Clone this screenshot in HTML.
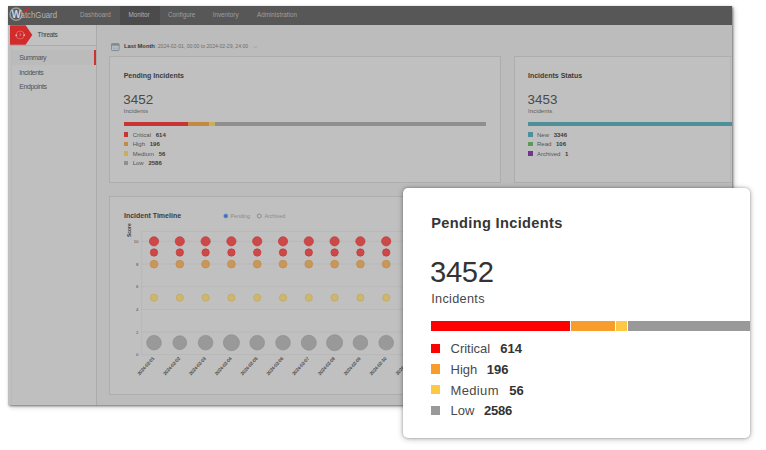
<!DOCTYPE html>
<html><head><meta charset="utf-8">
<style>
*{margin:0;padding:0;box-sizing:border-box}
html,body{width:766px;height:450px;overflow:hidden;background:#fff;font-family:"Liberation Sans",sans-serif}
.a{position:absolute;white-space:nowrap}
#win{position:absolute;left:8px;top:6px;width:724px;height:399px;background:#bcbcbc;box-shadow:1px 1px 2px rgba(0,0,0,.45),2px 2px 5px rgba(0,0,0,.22);overflow:hidden}
#nav{position:absolute;left:0;top:0;width:100%;height:19px;background:#575757}
.ni{position:absolute;top:0;height:19px;line-height:18px;font-size:6.3px;color:#9e9e9e}
#side{position:absolute;left:0;top:19px;width:88.5px;height:380px;background:#bfbfbf;border-right:1px solid #ababab}
.card{position:absolute;background:#c0c0c0;border:1px solid #adadad}
.t7{font-size:7px;font-weight:bold;color:#3c3c3c}
.big{font-size:13.4px;color:#4a4a4a}
.sm{font-size:6.1px;color:#626262}
.lg{font-size:6px;color:#555}
.lg b{color:#3a3a3a;margin-left:3px}
.sq{position:absolute;width:4.2px;height:4.2px}
#ov{position:absolute;left:402.5px;top:188px;width:347px;height:250px;background:#fff;border-radius:5px;box-shadow:0 0 3px rgba(0,0,0,.3),0 1px 6px rgba(0,0,0,.25);overflow:hidden}
.ol{position:absolute;white-space:nowrap;line-height:0;font-size:13px;color:#4a4a4a}
.ol b{color:#333}
</style></head><body>
<div id="win">
  <div id="nav">
    <svg class="a" style="left:0;top:0" width="60" height="19" viewBox="0 0 60 19">
      <circle cx="8.1" cy="8.1" r="6.1" fill="none" stroke="#9a9a9a" stroke-width="1.5"/>
      <text x="8.3" y="11.9" font-size="10.8" font-family="Liberation Sans" font-weight="bold" fill="#d4d4d4" text-anchor="middle" textLength="9.4" lengthAdjust="spacingAndGlyphs">W</text>
      <path d="M15 5.4 Q18.2 1.8 22.2 1.4 Q20.6 4.8 16.8 6.6Z" fill="#cc2a2a"/>
      <text x="12.6" y="11.9" font-size="9" font-family="Liberation Sans" fill="#b4b4b4" textLength="36.4" lengthAdjust="spacingAndGlyphs">atchGuard</text>
    </svg>
    <div class="ni" style="left:72px">Dashboard</div>
    <div class="ni" style="left:112px;width:40px;background:#4b4b4b;color:#b2b2b2;padding-left:8.5px">Monitor</div>
    <div class="ni" style="left:160px">Configure</div>
    <div class="ni" style="left:204.7px">Inventory</div>
    <div class="ni" style="left:249px">Administration</div>
  </div>
  <div id="side">
    <div class="a" style="left:2px;top:0;width:86px;height:21px;background:#c1c1c1;border-bottom:1px solid #acacac"></div>
    <svg class="a" style="left:2px;top:0" width="24" height="20" viewBox="0 0 24 20">
      <path d="M0 0.2H15.6L22.3 10L15.6 19.8H0Z" fill="#d12b2b"/>
      <circle cx="10.2" cy="10" r="4" fill="none" stroke="#e08a8a" stroke-width="0.6"/>
      <path d="M6.2 9.6L5.6 10.8L6.8 10.8Z M14.2 9.2L13.6 10.4L14.8 10.4Z" fill="#f2caca" stroke="#f2caca" stroke-width="0.6"/>
      <path d="M10.2 8.4v2.6" stroke="#e49a9a" stroke-width="0.8"/>
    </svg>
    <div class="a" style="left:29.6px;top:10.2px;line-height:0;font-size:6.5px;letter-spacing:-0.3px;color:#3e3e3e">Threats</div>
    <div class="a" style="left:3.2px;top:20.5px;width:1px;height:360px;background:#b9b9b9"></div>
    <div class="a" style="left:4.2px;top:25px;width:83.8px;height:14.5px;background:#bbbbbb"></div>
    <div class="a" style="left:86px;top:25px;width:2px;height:14.5px;background:#cf3030"></div>
    <div class="a" style="left:11.2px;top:33.4px;line-height:0;font-size:7px;letter-spacing:-0.42px;color:#525252">Summary</div>
    <div class="a" style="left:11.2px;top:47.8px;line-height:0;font-size:7px;letter-spacing:-0.42px;color:#525252">Incidents</div>
    <div class="a" style="left:11.2px;top:62.2px;line-height:0;font-size:7px;letter-spacing:-0.42px;color:#525252">Endpoints</div>
  </div>
  <!-- main -->
  <svg class="a" style="left:103px;top:36.8px" width="9" height="9" viewBox="0 0 9 9">
    <rect x="0.45" y="0.45" width="7.7" height="7.1" rx="0.9" fill="none" stroke="#708090" stroke-width="0.8"/>
    <path d="M0.5 1.9H8.1" stroke="#708090" stroke-width="1.4"/>
    <path d="M2.2 4.6h1.6v1.6h-1.6zM4.8 4.6h1.6v1.6h-1.6z" fill="#9aa6b0"/>
  </svg>
  <div class="a" style="left:116px;top:40.4px;line-height:0;font-size:5.8px;color:#3a3a3a"><b>Last Month</b><span style="font-size:5.1px;color:#6e6e6e">: 2024-02-01, 00:00 to 2024-02-29, 24:00</span></div>
  <svg class="a" style="left:244.5px;top:38.5px" width="5" height="4" viewBox="0 0 5 4"><path d="M0.5 1L2.5 3L4.5 1" fill="none" stroke="#8a9aaa" stroke-width="0.6"/></svg>

  <div class="card" style="left:101px;top:50px;width:391.5px;height:126.5px"></div>
  <div class="a t7" style="left:115.7px;top:70px;line-height:0">Pending Incidents</div>
  <div class="a big" style="left:115.3px;top:93.5px;line-height:0">3452</div>
  <div class="a sm" style="left:115.7px;top:105.3px;line-height:0">Incidents</div>
  <div class="a" style="left:115.7px;top:115.9px;width:64.3px;height:4px;background:#c83434"></div>
  <div class="a" style="left:180px;top:115.9px;width:21px;height:4px;background:#c48a44"></div>
  <div class="a" style="left:201px;top:115.9px;width:5.6px;height:4px;background:#cbae58"></div>
  <div class="a" style="left:206.6px;top:115.9px;width:271.4px;height:4px;background:#8f8f8f"></div>
  <div class="sq" style="left:116px;top:126.4px;background:#c83434"></div>
  <div class="sq" style="left:116px;top:135.7px;background:#c48a44"></div>
  <div class="sq" style="left:116px;top:145.4px;background:#cbae58"></div>
  <div class="sq" style="left:116px;top:155px;background:#8f8f8f"></div>
  <div class="a lg" style="left:124.7px;top:128.7px;line-height:0">Critical <b>614</b></div>
  <div class="a lg" style="left:124.7px;top:138px;line-height:0">High <b>196</b></div>
  <div class="a lg" style="left:124.7px;top:147.7px;line-height:0">Medium <b>56</b></div>
  <div class="a lg" style="left:124.7px;top:157.3px;line-height:0">Low <b>2586</b></div>

  <div class="card" style="left:506px;top:50px;width:230px;height:126.5px"></div>
  <div class="a" style="left:721.5px;top:50px;width:1px;height:126.5px;background:#b6b6b6"></div>
  <div class="a t7" style="left:520px;top:70px;line-height:0">Incidents Status</div>
  <div class="a big" style="left:519.6px;top:93.5px;line-height:0">3453</div>
  <div class="a sm" style="left:520px;top:105.3px;line-height:0">Incidents</div>
  <div class="a" style="left:520px;top:115.9px;width:210px;height:4px;background:#4e8f98"></div>
  <div class="sq" style="left:520.4px;top:126.4px;background:#4e8f98"></div>
  <div class="sq" style="left:520.4px;top:135.7px;background:#5a9a5a"></div>
  <div class="sq" style="left:520.4px;top:145.4px;background:#6a3a8a"></div>
  <div class="a lg" style="left:529px;top:128.7px;line-height:0">New <b>3346</b></div>
  <div class="a lg" style="left:529px;top:138px;line-height:0">Read <b>106</b></div>
  <div class="a lg" style="left:529px;top:147.7px;line-height:0">Archived <b>1</b></div>

  <div class="card" style="left:101px;top:190px;width:620px;height:199px"></div>
  <div class="a t7" style="left:116px;top:209.8px;line-height:0">Incident Timeline</div>
  <svg class="a" style="left:214px;top:206.8px" width="80" height="6" viewBox="0 0 80 6">
    <circle cx="3.8" cy="3" r="2.1" fill="#3d6fc4" stroke="#6f8fc8" stroke-width="0.5"/>
    <text x="8.5" y="4.8" font-size="5.3" fill="#8a8a8a" font-family="Liberation Sans">Pending</text>
    <circle cx="37.3" cy="3" r="2" fill="none" stroke="#7e7e7e" stroke-width="0.75"/>
    <text x="42.5" y="4.8" font-size="5.3" fill="#8a8a8a" font-family="Liberation Sans">Archived</text>
  </svg>
  <svg class="a" style="left:-8px;top:-6px" width="766" height="450" viewBox="0 0 766 450">
    <g font-family="Liberation Sans" font-size="4.3" fill="#4e4e4e">
      <text transform="translate(130.9,237.1) rotate(-90)" font-weight="bold" font-size="5" fill="#383838">Score</text>
      <text x="138.5" y="242.8" text-anchor="end">10</text>
      <text x="138.5" y="265.6" text-anchor="end">8</text>
      <text x="138.5" y="288.4" text-anchor="end">6</text>
      <text x="138.5" y="311" text-anchor="end">4</text>
      <text x="138.5" y="333.7" text-anchor="end">2</text>
      <text x="138.5" y="356.4" text-anchor="end">0</text>
    </g>
    <g stroke="#b3b3b3" stroke-width="0.6">
      <path d="M141.6 231.4H740M141.6 231.4V355"/>
      <path d="M141.6 241.3H740M141.6 264H740M141.6 286.8H740M141.6 309.4H740M141.6 332H740M141.6 354.6H740"/>
    </g>
    <g>
      <circle cx="154.0" cy="241.3" r="4.6" fill="#cd4848" stroke="#c23a3a" stroke-width="0.7"/>
      <circle cx="154.0" cy="252.5" r="3.7" fill="#cd4848" stroke="#c23a3a" stroke-width="0.7"/>
      <circle cx="154.0" cy="264.1" r="3.9" fill="#c99758" stroke="#c08a4a" stroke-width="0.7"/>
      <circle cx="154.0" cy="297.7" r="3.6" fill="#cdb66e" stroke="#c2a85e" stroke-width="0.7"/>
      <circle cx="154.0" cy="342.7" r="7.3" fill="#999999" stroke="#8e8e8e" stroke-width="0.7"/>
      <circle cx="179.8" cy="241.3" r="4.6" fill="#cd4848" stroke="#c23a3a" stroke-width="0.7"/>
      <circle cx="179.8" cy="252.5" r="3.7" fill="#cd4848" stroke="#c23a3a" stroke-width="0.7"/>
      <circle cx="179.8" cy="264.1" r="3.9" fill="#c99758" stroke="#c08a4a" stroke-width="0.7"/>
      <circle cx="179.8" cy="297.7" r="3.6" fill="#cdb66e" stroke="#c2a85e" stroke-width="0.7"/>
      <circle cx="179.8" cy="342.7" r="6.9" fill="#999999" stroke="#8e8e8e" stroke-width="0.7"/>
      <circle cx="205.6" cy="241.3" r="4.6" fill="#cd4848" stroke="#c23a3a" stroke-width="0.7"/>
      <circle cx="205.6" cy="252.5" r="3.7" fill="#cd4848" stroke="#c23a3a" stroke-width="0.7"/>
      <circle cx="205.6" cy="264.1" r="3.9" fill="#c99758" stroke="#c08a4a" stroke-width="0.7"/>
      <circle cx="205.6" cy="297.7" r="3.6" fill="#cdb66e" stroke="#c2a85e" stroke-width="0.7"/>
      <circle cx="205.6" cy="342.7" r="7.3" fill="#999999" stroke="#8e8e8e" stroke-width="0.7"/>
      <circle cx="231.4" cy="241.3" r="4.6" fill="#cd4848" stroke="#c23a3a" stroke-width="0.7"/>
      <circle cx="231.4" cy="252.5" r="3.7" fill="#cd4848" stroke="#c23a3a" stroke-width="0.7"/>
      <circle cx="231.4" cy="264.1" r="3.9" fill="#c99758" stroke="#c08a4a" stroke-width="0.7"/>
      <circle cx="231.4" cy="297.7" r="3.6" fill="#cdb66e" stroke="#c2a85e" stroke-width="0.7"/>
      <circle cx="231.4" cy="342.7" r="8.0" fill="#999999" stroke="#8e8e8e" stroke-width="0.7"/>
      <circle cx="257.2" cy="241.3" r="4.6" fill="#cd4848" stroke="#c23a3a" stroke-width="0.7"/>
      <circle cx="257.2" cy="252.5" r="3.7" fill="#cd4848" stroke="#c23a3a" stroke-width="0.7"/>
      <circle cx="257.2" cy="264.1" r="3.9" fill="#c99758" stroke="#c08a4a" stroke-width="0.7"/>
      <circle cx="257.2" cy="297.7" r="3.6" fill="#cdb66e" stroke="#c2a85e" stroke-width="0.7"/>
      <circle cx="257.2" cy="342.7" r="7.3" fill="#999999" stroke="#8e8e8e" stroke-width="0.7"/>
      <circle cx="283.0" cy="241.3" r="4.6" fill="#cd4848" stroke="#c23a3a" stroke-width="0.7"/>
      <circle cx="283.0" cy="252.5" r="3.7" fill="#cd4848" stroke="#c23a3a" stroke-width="0.7"/>
      <circle cx="283.0" cy="264.1" r="3.9" fill="#c99758" stroke="#c08a4a" stroke-width="0.7"/>
      <circle cx="283.0" cy="297.7" r="3.6" fill="#cdb66e" stroke="#c2a85e" stroke-width="0.7"/>
      <circle cx="283.0" cy="342.7" r="7.3" fill="#999999" stroke="#8e8e8e" stroke-width="0.7"/>
      <circle cx="308.8" cy="241.3" r="4.6" fill="#cd4848" stroke="#c23a3a" stroke-width="0.7"/>
      <circle cx="308.8" cy="252.5" r="3.7" fill="#cd4848" stroke="#c23a3a" stroke-width="0.7"/>
      <circle cx="308.8" cy="264.1" r="3.9" fill="#c99758" stroke="#c08a4a" stroke-width="0.7"/>
      <circle cx="308.8" cy="297.7" r="3.6" fill="#cdb66e" stroke="#c2a85e" stroke-width="0.7"/>
      <circle cx="308.8" cy="342.7" r="7.5" fill="#999999" stroke="#8e8e8e" stroke-width="0.7"/>
      <circle cx="334.6" cy="241.3" r="4.6" fill="#cd4848" stroke="#c23a3a" stroke-width="0.7"/>
      <circle cx="334.6" cy="252.5" r="3.7" fill="#cd4848" stroke="#c23a3a" stroke-width="0.7"/>
      <circle cx="334.6" cy="264.1" r="3.9" fill="#c99758" stroke="#c08a4a" stroke-width="0.7"/>
      <circle cx="334.6" cy="297.7" r="3.6" fill="#cdb66e" stroke="#c2a85e" stroke-width="0.7"/>
      <circle cx="334.6" cy="342.7" r="8.0" fill="#999999" stroke="#8e8e8e" stroke-width="0.7"/>
      <circle cx="360.4" cy="241.3" r="4.6" fill="#cd4848" stroke="#c23a3a" stroke-width="0.7"/>
      <circle cx="360.4" cy="252.5" r="3.7" fill="#cd4848" stroke="#c23a3a" stroke-width="0.7"/>
      <circle cx="360.4" cy="264.1" r="3.9" fill="#c99758" stroke="#c08a4a" stroke-width="0.7"/>
      <circle cx="360.4" cy="297.7" r="3.6" fill="#cdb66e" stroke="#c2a85e" stroke-width="0.7"/>
      <circle cx="360.4" cy="342.7" r="7.3" fill="#999999" stroke="#8e8e8e" stroke-width="0.7"/>
      <circle cx="386.2" cy="241.3" r="4.6" fill="#cd4848" stroke="#c23a3a" stroke-width="0.7"/>
      <circle cx="386.2" cy="252.5" r="3.7" fill="#cd4848" stroke="#c23a3a" stroke-width="0.7"/>
      <circle cx="386.2" cy="264.1" r="3.9" fill="#c99758" stroke="#c08a4a" stroke-width="0.7"/>
      <circle cx="386.2" cy="297.7" r="3.6" fill="#cdb66e" stroke="#c2a85e" stroke-width="0.7"/>
      <circle cx="386.2" cy="342.7" r="7.3" fill="#999999" stroke="#8e8e8e" stroke-width="0.7"/>
      <circle cx="412.0" cy="241.3" r="4.6" fill="#cd4848" stroke="#c23a3a" stroke-width="0.7"/>
      <circle cx="412.0" cy="252.5" r="3.7" fill="#cd4848" stroke="#c23a3a" stroke-width="0.7"/>
      <circle cx="412.0" cy="264.1" r="3.9" fill="#c99758" stroke="#c08a4a" stroke-width="0.7"/>
      <circle cx="412.0" cy="297.7" r="3.6" fill="#cdb66e" stroke="#c2a85e" stroke-width="0.7"/>
      <circle cx="412.0" cy="342.7" r="7.3" fill="#999999" stroke="#8e8e8e" stroke-width="0.7"/>
    </g>
    <g font-family="Liberation Sans" font-size="4.45" fill="#444" stroke="#444" stroke-width="0.12">
      <text transform="translate(154.6,358.6) rotate(-48)" text-anchor="end">2024-02-01</text>
      <text transform="translate(180.4,358.6) rotate(-48)" text-anchor="end">2024-02-02</text>
      <text transform="translate(206.2,358.6) rotate(-48)" text-anchor="end">2024-02-03</text>
      <text transform="translate(232.0,358.6) rotate(-48)" text-anchor="end">2024-02-04</text>
      <text transform="translate(257.8,358.6) rotate(-48)" text-anchor="end">2024-02-05</text>
      <text transform="translate(283.6,358.6) rotate(-48)" text-anchor="end">2024-02-06</text>
      <text transform="translate(309.4,358.6) rotate(-48)" text-anchor="end">2024-02-07</text>
      <text transform="translate(335.2,358.6) rotate(-48)" text-anchor="end">2024-02-08</text>
      <text transform="translate(361.0,358.6) rotate(-48)" text-anchor="end">2024-02-09</text>
      <text transform="translate(386.8,358.6) rotate(-48)" text-anchor="end">2024-02-10</text>
      <text transform="translate(412.6,358.6) rotate(-48)" text-anchor="end">2024-02-11</text>
    </g>
  </svg>
</div>

<div id="ov">
  <div class="a" style="left:28.8px;top:34.5px;line-height:0;font-size:14.6px;font-weight:bold;color:#363636;letter-spacing:0.33px">Pending Incidents</div>
  <div class="a" style="left:27.6px;top:84.2px;line-height:0;font-size:29.2px;color:#333;letter-spacing:-0.35px">3452</div>
  <div class="a" style="left:28.8px;top:111px;line-height:0;font-size:12.7px;color:#474747;letter-spacing:0.3px">Incidents</div>
  <div class="a" style="left:28.2px;top:132.5px;width:139.5px;height:10px;background:#f00"></div>
  <div class="a" style="left:168.5px;top:132.5px;width:43.5px;height:10px;background:#f89c2c"></div>
  <div class="a" style="left:213px;top:132.5px;width:11px;height:10px;background:#fec844"></div>
  <div class="a" style="left:225.5px;top:132.5px;width:130px;height:10px;background:#999"></div>
  <div class="a" style="left:28.2px;top:155.5px;width:9.5px;height:9.5px;background:#f00"></div>
  <div class="a" style="left:28.2px;top:176px;width:9.5px;height:9.5px;background:#f89c2c"></div>
  <div class="a" style="left:28.2px;top:196.8px;width:9.5px;height:9.5px;background:#fec844"></div>
  <div class="a" style="left:28.2px;top:217.5px;width:9.5px;height:9.5px;background:#999"></div>
  <div class="ol" style="left:48px;top:161.3px">Critical<b style="margin-left:10px">614</b></div>
  <div class="ol" style="left:48px;top:181.8px">High<b style="margin-left:9.5px">196</b></div>
  <div class="ol" style="left:48px;top:202.6px"><span style="letter-spacing:0.35px">Medium</span><b style="margin-left:10.5px">56</b></div>
  <div class="ol" style="left:48px;top:223px">Low<b style="margin-left:9.7px;letter-spacing:-0.25px">2586</b></div>
</div>
</body></html>
